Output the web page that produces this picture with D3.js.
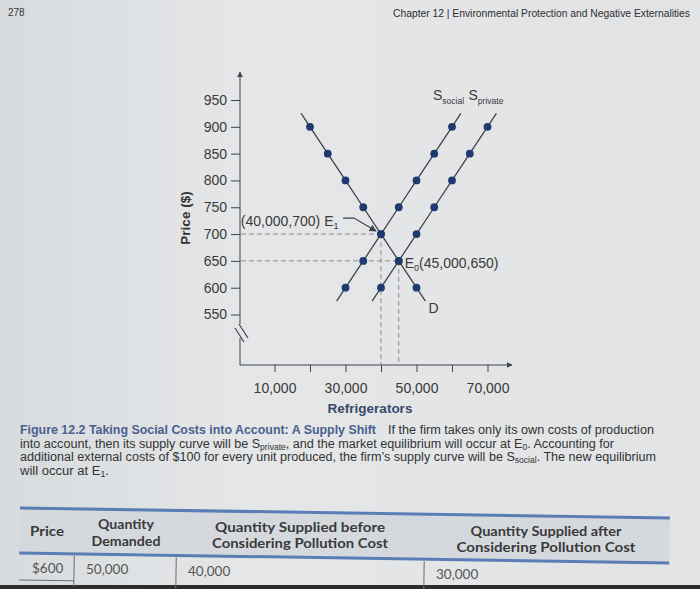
<!DOCTYPE html>
<html>
<head>
<meta charset="utf-8">
<script src="https://cdn.jsdelivr.net/npm/d3@7"></script>
<style>
  html, body { margin: 0; padding: 0; background: #e3e5e7; }
  svg { display: block; }
</style>
</head>
<body>
<div id="page"></div>
<script>
// data
const prices = [600, 650, 700, 750, 800, 850, 900];
const demandQty = [50000, 45000, 40000, 35000, 30000, 25000, 20000];
const privateQty = [40000, 45000, 50000, 55000, 60000, 65000, 70000];
const socialQty = [30000, 35000, 40000, 45000, 50000, 55000, 60000];
const yTicks = [550, 600, 650, 700, 750, 800, 850, 900, 950];
const xTicks = [10000, 20000, 30000, 40000, 50000, 60000, 70000];
const xTickLabels = ["10,000", "", "30,000", "", "50,000", "", "70,000"];
const e1 = {q: 40000, p: 700, label: "(40,000,700) E"};
const e0 = {q: 45000, p: 650, label: "(45,000,650)"};
const tableHeader = [["Price"], ["Quantity", "Demanded"], ["Quantity Supplied before", "Considering Pollution Cost"], ["Quantity Supplied after", "Considering Pollution Cost"]];
const tableRow = ["$600", "50,000", "40,000", "30,000"];

const W = 700, H = 589;
const font = "'Liberation Sans', Arial, sans-serif";
const lineCol = "#3f434a", dotCol = "#1f3a6e", textCol = "#3a3a3a";

const svg = d3.select("#page").append("svg").attr("width", W).attr("height", H);
const defs = svg.append("defs");

// photo-ish page background
const bg = defs.append("linearGradient").attr("id", "bg").attr("x1", 0).attr("x2", 1).attr("y1", 0).attr("y2", 0);
bg.append("stop").attr("offset", "0%").attr("stop-color", "#d8dbdd");
bg.append("stop").attr("offset", "35%").attr("stop-color", "#e4e6e8");
bg.append("stop").attr("offset", "100%").attr("stop-color", "#e1e3e5");
svg.append("rect").attr("width", W).attr("height", H).attr("fill", "url(#bg)");
svg.append("rect").attr("y", 585).attr("width", W).attr("height", 4).attr("fill", "#2c2c2c");

defs.append("marker").attr("id", "arr").attr("viewBox", "0 0 10 10").attr("refX", 9).attr("refY", 5)
  .attr("markerWidth", 6).attr("markerHeight", 6).attr("orient", "auto")
  .append("path").attr("d", "M0,0L10,5L0,10z").attr("fill", lineCol);

// page header
svg.append("text").attr("x", 8).attr("y", 16).attr("font-family", font).attr("font-size", 10)
  .attr("fill", "#333").text("278");
svg.append("text").attr("x", 393).attr("y", 17).attr("font-family", font).attr("font-size", 10)
  .attr("fill", "#2e2e2e").attr("textLength", 297).attr("lengthAdjust", "spacingAndGlyphs")
  .text("Chapter 12 | Environmental Protection and Negative Externalities");

// scales
const x = d3.scaleLinear().domain([0, 70000]).range([239, 487.5]);
const y = d3.scaleLinear().domain([550, 950]).range([314.5, 100]);
const axisY0 = 365;

const g = svg.append("g");

// y axis
const yAxis = g.append("g").attr("transform", "translate(240,0)")
  .call(d3.axisLeft(y).tickValues(yTicks).tickSize(9).tickPadding(4));
yAxis.select(".domain").remove();
yAxis.selectAll("line").attr("stroke", lineCol);
yAxis.selectAll("text").attr("font-family", font).attr("font-size", 14).attr("fill", textCol);

// y axis line with break and arrow
g.append("line").attr("x1", 240).attr("x2", 240).attr("y1", axisY0).attr("y2", 338).attr("stroke", lineCol);
g.append("line").attr("x1", 240).attr("x2", 240).attr("y1", 324).attr("y2", 72)
  .attr("stroke", lineCol).attr("marker-end", "url(#arr)");
[0, 4].forEach(d => {
  g.append("line").attr("x1", 235 + d).attr("y1", 328 - d).attr("x2", 244 + d).attr("y2", 342 - d)
    .attr("stroke", lineCol).attr("stroke-width", 1.2);
});

// x axis
const xAxis = g.append("g").attr("transform", `translate(0,${axisY0})`)
  .call(d3.axisBottom(x).tickValues(xTicks).tickSize(7).tickPadding(11).tickFormat((d, i) => xTickLabels[i]));
xAxis.select(".domain").remove();
xAxis.selectAll("line").attr("stroke", lineCol);
xAxis.selectAll("text").attr("font-family", font).attr("font-size", 14).attr("fill", textCol);
g.append("line").attr("x1", 240).attr("x2", 512).attr("y1", axisY0).attr("y2", axisY0)
  .attr("stroke", lineCol).attr("marker-end", "url(#arr)");

// axis titles
g.append("text").attr("x", 370).attr("y", 413).attr("text-anchor", "middle")
  .attr("font-family", font).attr("font-size", 13.5).attr("font-weight", "bold").attr("fill", "#3a4a6a")
  .text("Refrigerators");
g.append("text").attr("transform", "translate(190,218) rotate(-90)").attr("text-anchor", "middle")
  .attr("font-family", font).attr("font-size", 13.5).attr("font-weight", "bold").attr("fill", "#333")
  .text("Price ($)");

// dashed guide lines
const dash = g.append("g").attr("stroke", "#8c8c8c").attr("stroke-dasharray", "5,3").attr("fill", "none");
[e1, e0].forEach(e => {
  dash.append("line").attr("x1", 241).attr("x2", x(e.q)).attr("y1", y(e.p)).attr("y2", y(e.p));
  dash.append("line").attr("x1", x(e.q)).attr("x2", x(e.q)).attr("y1", y(e.p)).attr("y2", axisY0);
});

// curves
const curves = [
  {name: "D", qty: demandQty},
  {name: "social", qty: socialQty},
  {name: "private", qty: privateQty}
];
const line = d3.line().x(d => x(d.q)).y(d => y(d.p));
curves.forEach(c => {
  const pts = prices.map((p, i) => ({p: p, q: c.qty[i]}));
  const n = pts.length;
  // extend a half step past the end dots
  const a = {p: pts[0].p - (pts[1].p - pts[0].p) / 2, q: pts[0].q - (pts[1].q - pts[0].q) / 2};
  const b = {p: pts[n - 1].p + (pts[n - 1].p - pts[n - 2].p) / 2, q: pts[n - 1].q + (pts[n - 1].q - pts[n - 2].q) / 2};
  g.append("path").datum([a].concat(pts, [b])).attr("d", line)
    .attr("fill", "none").attr("stroke", lineCol).attr("stroke-width", 1.3);
  g.selectAll(null).data(pts).enter().append("circle")
    .attr("cx", d => x(d.q)).attr("cy", d => y(d.p)).attr("r", 3.9).attr("fill", dotCol);
});

// supply labels
[["social", socialQty], ["private", privateQty]].forEach(([name, qty]) => {
  const t = g.append("text").attr("x", x(qty[qty.length - 1]) - 19).attr("y", 100)
    .attr("font-family", font).attr("font-size", 14).attr("fill", textCol);
  t.append("tspan").text("S");
  t.append("tspan").attr("dy", 4).attr("font-size", 8.5).text(name);
});
g.append("text").attr("x", x(demandQty[0]) + 12).attr("y", y(prices[0]) + 25)
  .attr("font-family", font).attr("font-size", 14).attr("fill", textCol).text("D");

// equilibrium labels
const t1 = g.append("text").attr("x", x(e1.q) - 42.5).attr("y", y(e1.p) - 8).attr("text-anchor", "end")
  .attr("font-family", font).attr("font-size", 14).attr("fill", textCol);
t1.append("tspan").text(e1.label);
t1.append("tspan").attr("dy", 3).attr("font-size", 9).text("1");
g.append("path")
  .attr("d", `M${x(e1.q) - 38},${y(e1.p) - 16}L${x(e1.q) - 27},${y(e1.p) - 16}L${x(e1.q) - 5},${y(e1.p) - 3}`)
  .attr("fill", "none").attr("stroke", lineCol).attr("stroke-width", 1.2).attr("marker-end", "url(#arr)");

const t0 = g.append("text").attr("x", x(e0.q) + 6).attr("y", y(e0.p) + 7)
  .attr("font-family", font).attr("font-size", 14).attr("fill", textCol);
t0.append("tspan").text("E");
t0.append("tspan").attr("dy", 3).attr("font-size", 9).text("0");
t0.append("tspan").attr("dy", -3).text(e0.label);

// caption
const cap = svg.append("g").attr("font-family", font).attr("font-size", 12.5).attr("fill", "#333");
cap.append("text").attr("x", 20).attr("y", 434).attr("font-weight", "bold").attr("fill", "#4a5f8e")
  .attr("textLength", 356).attr("lengthAdjust", "spacingAndGlyphs")
  .text("Figure 12.2 Taking Social Costs into Account: A Supply Shift");
cap.append("text").attr("x", 388).attr("y", 434).attr("textLength", 266).attr("lengthAdjust", "spacingAndGlyphs")
  .text("If the firm takes only its own costs of production");
const c2 = cap.append("text").attr("x", 20).attr("y", 447.5).attr("textLength", 594).attr("lengthAdjust", "spacingAndGlyphs");
c2.append("tspan").text("into account, then its supply curve will be S");
c2.append("tspan").attr("dy", 2).attr("font-size", 8.5).text("private");
c2.append("tspan").attr("dy", -2).text(", and the market equilibrium will occur at E");
c2.append("tspan").attr("dy", 2).attr("font-size", 8.5).text("0");
c2.append("tspan").attr("dy", -2).text(". Accounting for");
const c3 = cap.append("text").attr("x", 20).attr("y", 461).attr("textLength", 636).attr("lengthAdjust", "spacingAndGlyphs");
c3.append("tspan").text("additional external costs of $100 for every unit produced, the firm\u2019s supply curve will be S");
c3.append("tspan").attr("dy", 2).attr("font-size", 8.5).text("social");
c3.append("tspan").attr("dy", -2).text(". The new equilibrium");
const c4 = cap.append("text").attr("x", 20).attr("y", 474.5).attr("textLength", 89).attr("lengthAdjust", "spacingAndGlyphs");
c4.append("tspan").text("will occur at E");
c4.append("tspan").attr("dy", 2).attr("font-size", 8.5).text("1");
c4.append("tspan").attr("dy", -2).text(".");

// table (photo is slightly tilted: rules are rotated, text is just shifted down)
const tfont = "Lato, 'Open Sans', sans-serif";
const tilt = Math.tan(0.88 * Math.PI / 180);
const tb = svg.append("g").attr("transform", "rotate(0.88,20,507)");
const colX = [20, 75, 177, 425, 670];
const headCx = [47, 126, 300, 546];
const headLen = [[34], [56, 69], [170, 176], [151, 179]];
tb.append("rect").attr("x", colX[0]).attr("y", 509).attr("width", colX[4] - colX[0]).attr("height", 43).attr("fill", "#d5d9de");
[508, 553].forEach(yy => tb.append("line").attr("x1", colX[0]).attr("x2", colX[4]).attr("y1", yy).attr("y2", yy)
  .attr("stroke", "#5b7db6").attr("stroke-width", 3));
[1, 2, 3].forEach(i => tb.append("line").attr("x1", colX[i]).attr("x2", colX[i]).attr("y1", 555).attr("y2", 586)
  .attr("stroke", "#6c6c6c"));
tb.append("line").attr("x1", colX[0]).attr("x2", colX[1]).attr("y1", 580).attr("y2", 580).attr("stroke", "#6c6c6c");

tableHeader.forEach((lines, i) => {
  const off = (headCx[i] - 20) * tilt;
  lines.forEach((s, j) => {
    svg.append("text").attr("text-anchor", "middle").attr("x", headCx[i])
      .attr("y", (lines.length === 1 ? 536 : 527.5 + j * 16.5) + off)
      .attr("textLength", headLen[i][j]).attr("lengthAdjust", "spacingAndGlyphs")
      .attr("font-family", tfont).attr("font-size", 13.5).attr("font-weight", 700).attr("fill", "#3a3a3a")
      .text(s);
  });
});
tableRow.forEach((s, i) => {
  const tx = i === 0 ? 32 : colX[i] + 11;
  svg.append("text").attr("x", tx).attr("y", 573 + (tx - 20) * tilt)
    .attr("font-family", tfont).attr("font-size", 13.5).attr("fill", "#555").text(s);
});
</script>
</body>
</html>
